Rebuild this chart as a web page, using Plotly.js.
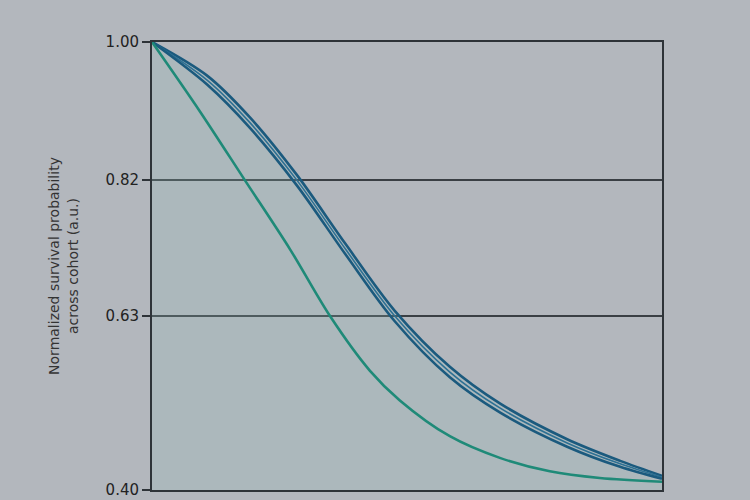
<!DOCTYPE html>
<html>
<head>
<meta charset="utf-8">
<script src="https://cdn.plot.ly/plotly-3.0.1.min.js"></script>
<style>html,body{margin:0;padding:0;background:#b3b7bd;}#chart{width:750px;height:500px;}</style>
</head>
<body>
<div id="chart"></div>
<script>
// Data
const xGreen = [0, 0.94, 1.82, 2.71, 3.49, 4.27, 4.86, 5.84, 6.82, 7.80, 8.78, 10];
const yGreen = [1.0, 0.907, 0.815, 0.722, 0.633, 0.560, 0.520, 0.472, 0.443, 0.425, 0.416, 0.411];

const xBlue = [0, 1.08, 1.92, 2.84, 3.80, 4.76, 5.84, 6.82, 8.14, 9.18, 10];
const yBlueUpper = [1.0, 0.955, 0.899, 0.822, 0.729, 0.640, 0.565, 0.516, 0.468, 0.439, 0.419];
const yBlueMid   = [1.0, 0.949, 0.892, 0.815, 0.722, 0.633, 0.558, 0.510, 0.463, 0.435, 0.417];
const yBlueLower = [1.0, 0.943, 0.885, 0.808, 0.715, 0.626, 0.551, 0.504, 0.458, 0.431, 0.415];

const tickVals = [0.40, 0.633, 0.815, 1.00];
const tickText = ['0.40', '0.63', '0.82', '1.00'];
const yTitle = 'Normalized survival probability<br>across cohort (a.u.)';

const blue = '#1b5a7e';
const sm = 0.9;
const traces = [
  {x: xBlue, y: yBlueUpper, mode: 'lines', line: {color: blue, width: 2.6, shape: 'spline', smoothing: sm},
   fill: 'tozeroy', fillcolor: 'rgba(150,192,186,0.22)', hoverinfo: 'skip'},
  {x: xBlue, y: yBlueMid, mode: 'lines', line: {color: '#2d7093', width: 1.6, shape: 'spline', smoothing: sm}},
  {x: xBlue, y: yBlueLower, mode: 'lines', line: {color: blue, width: 2.6, shape: 'spline', smoothing: sm}},
  {x: xGreen, y: yGreen, mode: 'lines', line: {color: '#1f8a78', width: 2.6, shape: 'spline', smoothing: sm}}
];

const layout = {
  width: 750, height: 500,
  margin: {l: 152, r: 88, t: 42, b: 10},
  paper_bgcolor: '#b3b7bd',
  plot_bgcolor: '#b3b7bd',
  showlegend: false,
  xaxis: {range: [0, 10], showticklabels: false, ticks: '', showgrid: false,
          zeroline: false, showline: true, linecolor: '#2e3338', linewidth: 2, mirror: true},
  yaxis: {range: [0.40, 1.00], tickvals: tickVals, ticktext: tickText,
          ticks: 'outside', ticklen: 8, tickcolor: '#2e3338', tickwidth: 1.5,
          showgrid: true, gridcolor: '#3a3f44', gridwidth: 1.5, zeroline: false,
          showline: true, linecolor: '#2e3338', linewidth: 2, mirror: true,
          tickfont: {family: 'DejaVu Sans', size: 15, color: '#222'},
          title: {text: yTitle, standoff: 24, font: {family: 'DejaVu Sans', size: 14, color: '#333'}}}
};

Plotly.newPlot('chart', traces, layout, {displayModeBar: false, staticPlot: true});
</script>
</body>
</html>
